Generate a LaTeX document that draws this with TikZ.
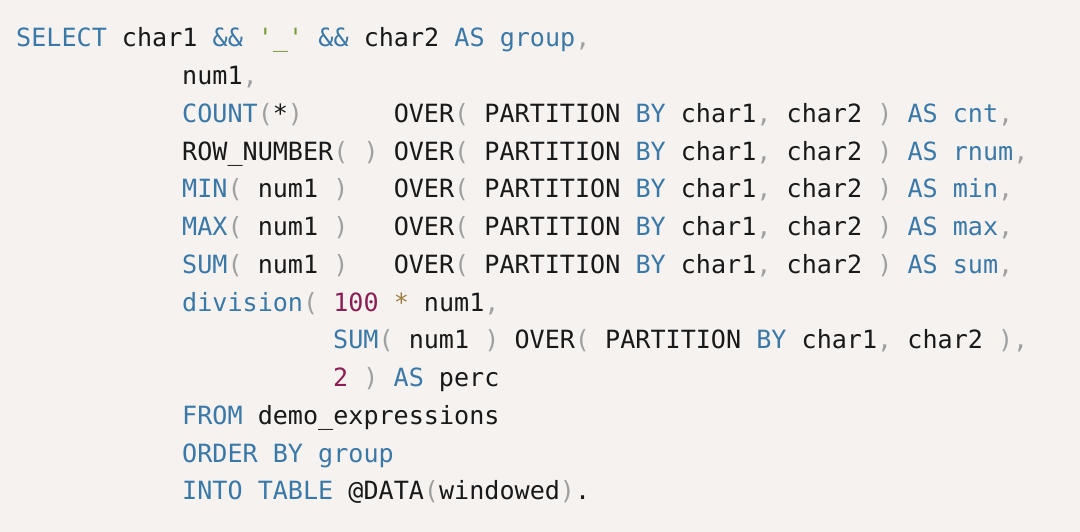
\documentclass[tikz,border=0pt]{standalone}
\usepackage{fontspec}
\setmonofont{DejaVu Sans Mono}
\usetikzlibrary{positioning}
\definecolor{bgpaper}{RGB}{245, 242, 239}
\definecolor{kwblue}{RGB}{58, 120, 168}
\definecolor{strgreen}{RGB}{122, 154, 58}
\definecolor{numpurple}{RGB}{139, 30, 85}
\definecolor{opbrown}{RGB}{160, 125, 65}
\definecolor{punctgray}{RGB}{160, 160, 160}
\definecolor{codeblack}{RGB}{25, 25, 25}
\newcommand{\kw}[1]{\textcolor{kwblue}{#1}}
\newcommand{\pu}[1]{\textcolor{punctgray}{#1}}
\newcommand{\str}[1]{\textcolor{strgreen}{#1}}
\newcommand{\nm}[1]{\textcolor{numpurple}{#1}}
\newcommand{\op}[1]{\textcolor{opbrown}{#1}}
\tikzset{codeline/.style={anchor=base west, inner sep=0pt, text=codeblack,
  font=\ttfamily\fontsize{25.1pt}{30pt}\selectfont}}

\begin{document}
\begin{tikzpicture}[x=1pt,y=1pt]
  \fill[bgpaper] (0,0) rectangle (1080,532);
  \useasboundingbox (0,0) rectangle (1080,532);

  % select list
  \node[codeline] (l1) at (16,485) {\kw{SELECT} char1 \kw{\&\&} \str{'\_'} \kw{\&\&} char2 \kw{AS} \kw{group}\pu{,}};
  \node[codeline] (l2) at (182,447.25) {num1\pu{,}};
  \node[codeline] (l3) at (182,409.5) {\kw{COUNT}\pu{(}*\pu{)}~~~~~~OVER\pu{(} PARTITION \kw{BY} char1\pu{,} char2 \pu{)} \kw{AS} \kw{cnt}\pu{,}};
  \node[codeline] (l4) at (182,371.75) {ROW\_NUMBER\pu{(} \pu{)} OVER\pu{(} PARTITION \kw{BY} char1\pu{,} char2 \pu{)} \kw{AS} \kw{rnum}\pu{,}};
  \node[codeline] (l5) at (182,334) {\kw{MIN}\pu{(} num1 \pu{)}~~~OVER\pu{(} PARTITION \kw{BY} char1\pu{,} char2 \pu{)} \kw{AS} \kw{min}\pu{,}};
  \node[codeline] (l6) at (182,296.25) {\kw{MAX}\pu{(} num1 \pu{)}~~~OVER\pu{(} PARTITION \kw{BY} char1\pu{,} char2 \pu{)} \kw{AS} \kw{max}\pu{,}};
  \node[codeline] (l7) at (182,258.5) {\kw{SUM}\pu{(} num1 \pu{)}~~~OVER\pu{(} PARTITION \kw{BY} char1\pu{,} char2 \pu{)} \kw{AS} \kw{sum}\pu{,}};
  % division
  \node[codeline] (l8) at (182,220.75) {\kw{division}\pu{(} \nm{100} \op{*} num1\pu{,}};
  \node[codeline] (l9) at (333,183) {\kw{SUM}\pu{(} num1 \pu{)} OVER\pu{(} PARTITION \kw{BY} char1\pu{,} char2 \pu{)}\pu{,}};
  \node[codeline] (l10) at (333,145.25) {\nm{2} \pu{)} \kw{AS} perc};
  % rest
  \node[codeline] (l11) at (182,107.5) {\kw{FROM} demo\_expressions};
  \node[codeline] (l12) at (182,69.75) {\kw{ORDER} \kw{BY} \kw{group}};
  \node[codeline] (l13) at (182,32) {\kw{INTO} \kw{TABLE} @DATA\pu{(}windowed\pu{)}.};
\end{tikzpicture}
\end{document}
